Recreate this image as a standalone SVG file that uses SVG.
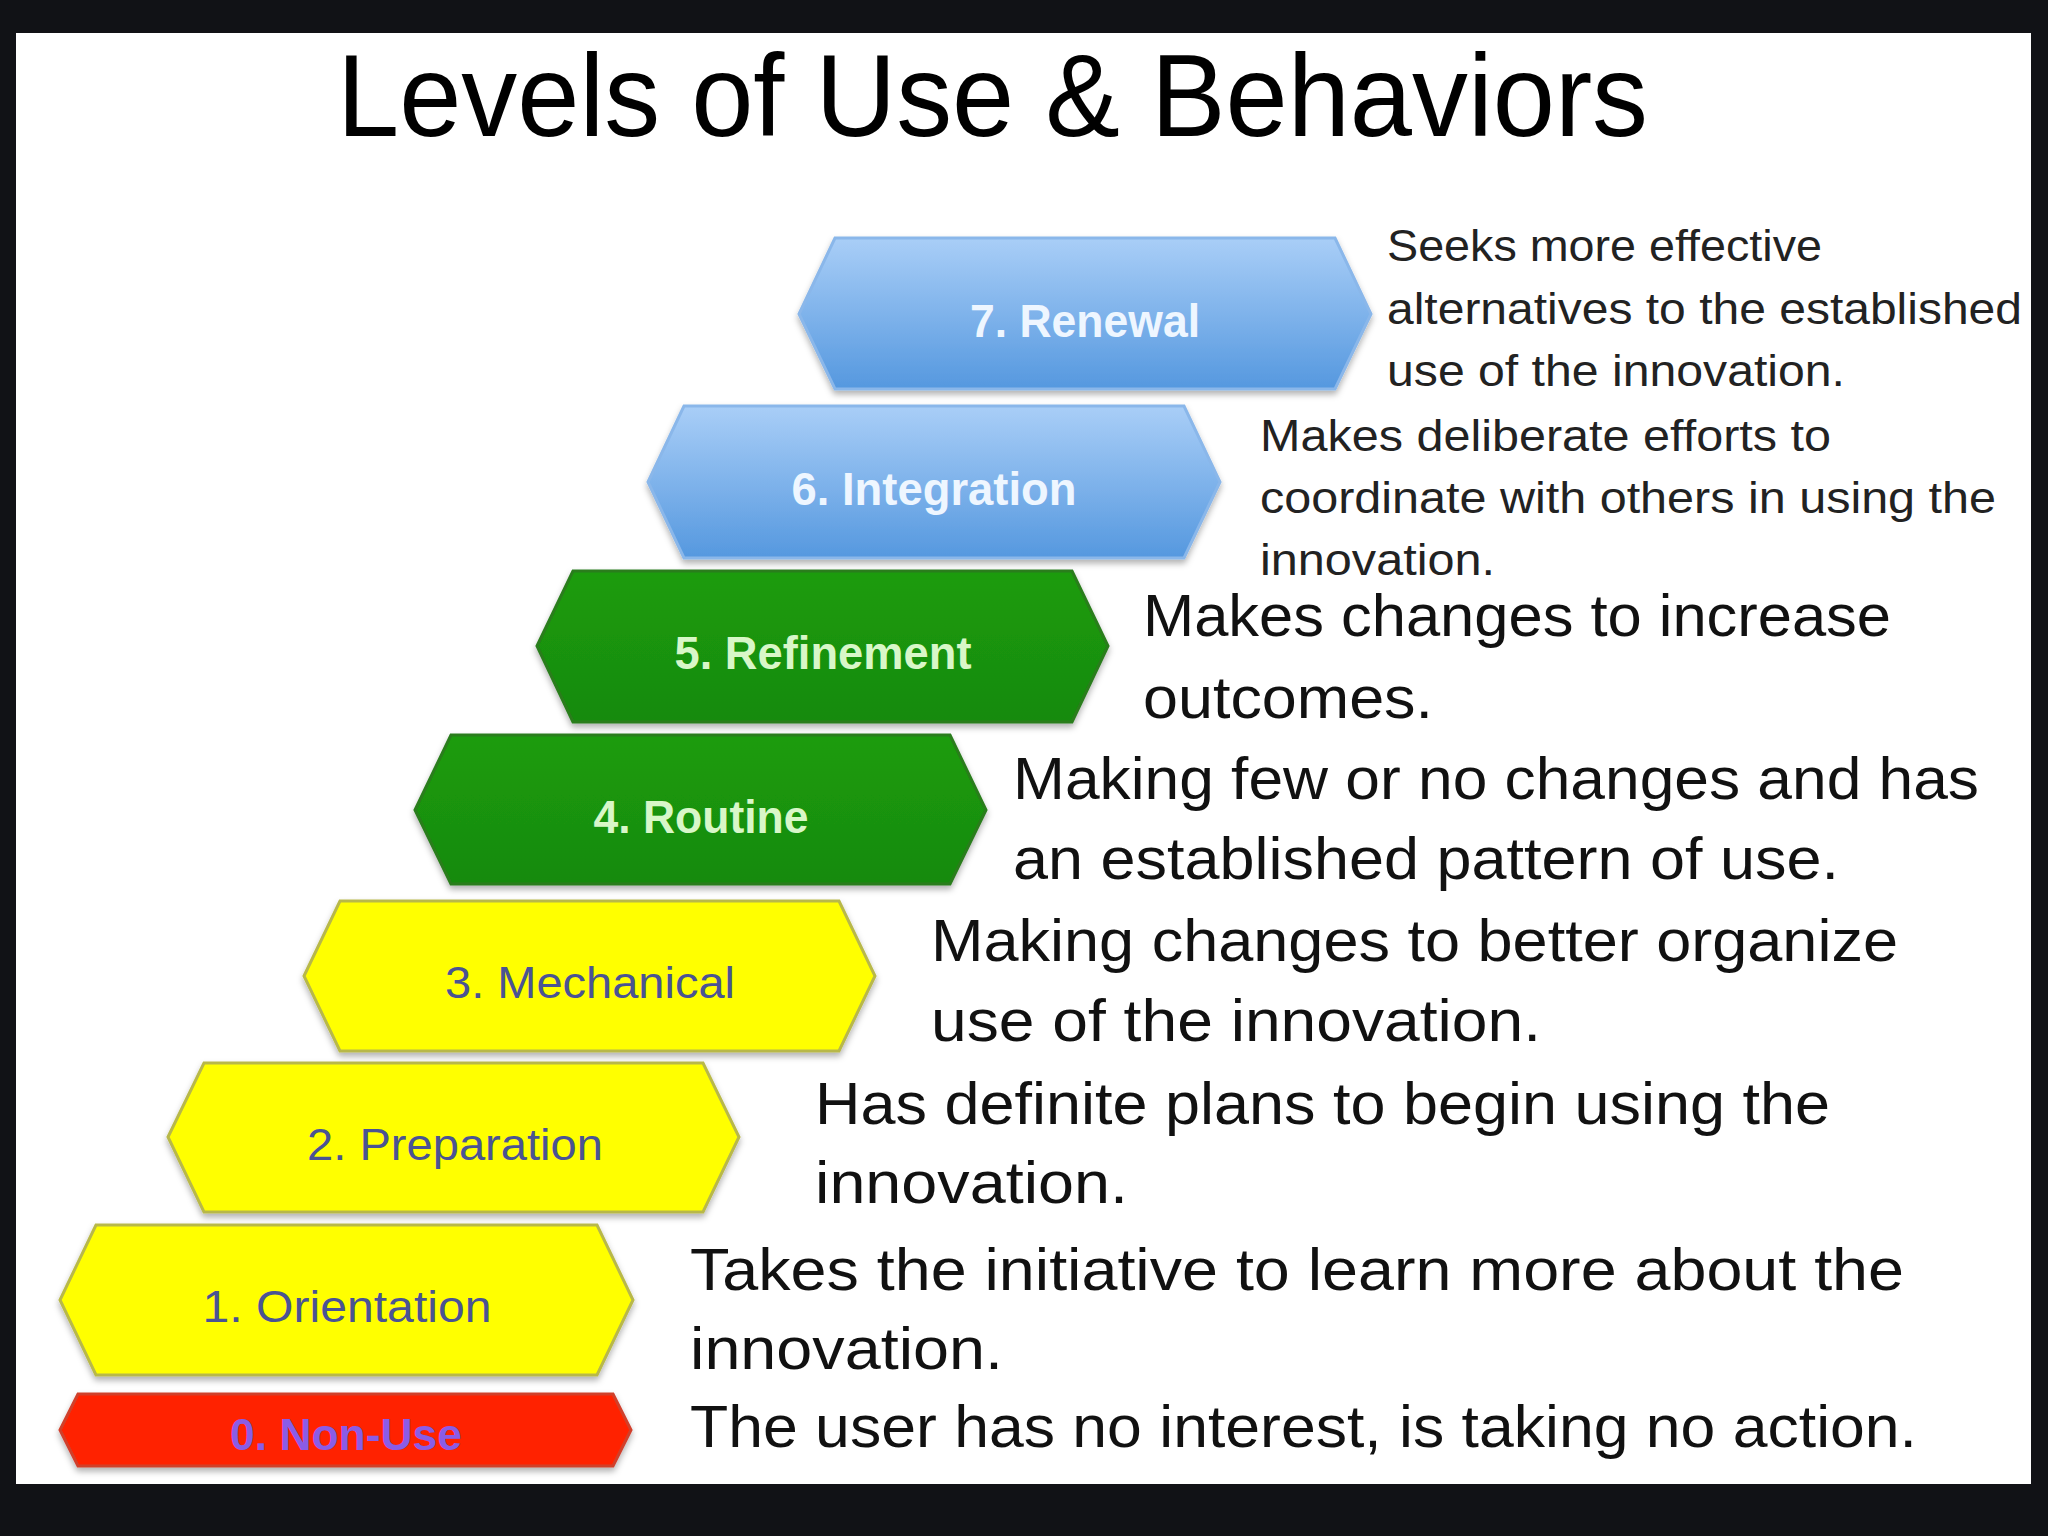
<svg xmlns="http://www.w3.org/2000/svg" width="2048" height="1536" viewBox="0 0 2048 1536">
  <defs>
    <linearGradient id="gBlue" x1="0" y1="0" x2="0" y2="1">
      <stop offset="0" stop-color="#a9cef7"/>
      <stop offset="1" stop-color="#5598df"/>
    </linearGradient>
    <linearGradient id="gGreen" x1="0" y1="0" x2="0" y2="1">
      <stop offset="0" stop-color="#1c9c0a"/>
      <stop offset="1" stop-color="#178a08"/>
    </linearGradient>
    <filter id="sh" x="-5%" y="-10%" width="110%" height="130%">
      <feDropShadow dx="0" dy="4" stdDeviation="3" flood-color="#000" flood-opacity="0.3"/>
    </filter>
    <style>
      .blue { fill: url(#gBlue); stroke: #8ab7ea; stroke-width: 3; filter: url(#sh); }
      .green { fill: url(#gGreen); stroke: #2a7d1e; stroke-width: 3; filter: url(#sh); }
      .yellow { fill: #ffff00; stroke: #b8b84a; stroke-width: 3; filter: url(#sh); }
      .red { fill: #ff2400; stroke: #d0402c; stroke-width: 3; filter: url(#sh); }
      .lbl { font-family: "Liberation Sans", Arial, sans-serif; text-anchor: middle; }
      .lb { fill: #eef6ff; font-size: 46px; font-weight: bold; }
      .lg { fill: #d8f7c8; font-size: 46px; font-weight: bold; }
      .ly { fill: #4a5393; font-size: 45px; }
      .lr { fill: #8a5ce6; font-size: 44px; font-weight: bold; }
      .desc { font-family: "Liberation Sans", Arial, sans-serif; fill: #111; }
      .ds { font-size: 45px; fill: #222; }
      .dl { font-size: 60px; }
      .title { font-family: "Liberation Sans", Arial, sans-serif; font-size: 116px; fill: #000; }
    </style>
  </defs>

  <rect x="0" y="0" width="2048" height="1536" fill="#111216"/>
  <rect x="16" y="33" width="2015" height="1451" fill="#ffffff"/>

  <text class="title" x="337" y="136" textLength="1311" lengthAdjust="spacingAndGlyphs">Levels of Use &amp; Behaviors</text>

  <g id="node-7">
    <polygon class="blue" points="799,314 835,238 1335,238 1371,314 1335,389 835,389"/>
    <text class="lbl lb" x="1085" y="337" textLength="230" lengthAdjust="spacingAndGlyphs">7. Renewal</text>
  </g>
  <g id="node-6">
    <polygon class="blue" points="648,482 684,406 1184,406 1220,482 1184,558 684,558"/>
    <text class="lbl lb" x="934" y="505" textLength="285" lengthAdjust="spacingAndGlyphs">6. Integration</text>
  </g>
  <g id="node-5">
    <polygon class="green" points="537,646 573,571 1072,571 1108,646 1072,722 573,722"/>
    <text class="lbl lg" x="823" y="669" textLength="297" lengthAdjust="spacingAndGlyphs">5. Refinement</text>
  </g>
  <g id="node-4">
    <polygon class="green" points="415,810 451,735 950,735 986,810 950,884 451,884"/>
    <text class="lbl lg" x="701" y="833" textLength="215" lengthAdjust="spacingAndGlyphs">4. Routine</text>
  </g>
  <g id="node-3">
    <polygon class="yellow" points="304,976 340,901 839,901 875,976 839,1051 340,1051"/>
    <text class="lbl ly" x="590" y="998" textLength="290" lengthAdjust="spacingAndGlyphs">3. Mechanical</text>
  </g>
  <g id="node-2">
    <polygon class="yellow" points="168,1137 204,1063 703,1063 739,1137 703,1212 204,1212"/>
    <text class="lbl ly" x="455" y="1160" textLength="296" lengthAdjust="spacingAndGlyphs">2. Preparation</text>
  </g>
  <g id="node-1">
    <polygon class="yellow" points="60,1300 96,1225 597,1225 633,1300 597,1375 96,1375"/>
    <text class="lbl ly" x="347" y="1322" textLength="289" lengthAdjust="spacingAndGlyphs">1. Orientation</text>
  </g>
  <g id="node-0">
    <polygon class="red" points="60,1430 78,1394 613,1394 631,1430 613,1466 78,1466"/>
    <text class="lbl lr" x="346" y="1450" textLength="232" lengthAdjust="spacingAndGlyphs">0. Non-Use</text>
  </g>

  <g id="connectors"></g>

  <g id="desc-7" class="desc ds">
    <text x="1387" y="261" textLength="435" lengthAdjust="spacingAndGlyphs">Seeks more effective</text>
    <text x="1387" y="324" textLength="635" lengthAdjust="spacingAndGlyphs">alternatives to the established</text>
    <text x="1387" y="386" textLength="458" lengthAdjust="spacingAndGlyphs">use of the innovation.</text>
  </g>
  <g id="desc-6" class="desc ds">
    <text x="1260" y="451" textLength="571" lengthAdjust="spacingAndGlyphs">Makes deliberate efforts to</text>
    <text x="1260" y="513" textLength="736" lengthAdjust="spacingAndGlyphs">coordinate with others in using the</text>
    <text x="1260" y="575" textLength="235" lengthAdjust="spacingAndGlyphs">innovation.</text>
  </g>
  <g id="desc-5" class="desc dl">
    <text x="1143" y="636" textLength="748" lengthAdjust="spacingAndGlyphs">Makes changes to increase</text>
    <text x="1143" y="718" textLength="290" lengthAdjust="spacingAndGlyphs">outcomes.</text>
  </g>
  <g id="desc-4" class="desc dl">
    <text x="1013" y="799" textLength="966" lengthAdjust="spacingAndGlyphs">Making few or no changes and has</text>
    <text x="1013" y="879" textLength="826" lengthAdjust="spacingAndGlyphs">an established pattern of use.</text>
  </g>
  <g id="desc-3" class="desc dl">
    <text x="931" y="961" textLength="967" lengthAdjust="spacingAndGlyphs">Making changes to better organize</text>
    <text x="931" y="1041" textLength="610" lengthAdjust="spacingAndGlyphs">use of the innovation.</text>
  </g>
  <g id="desc-2" class="desc dl">
    <text x="815" y="1124" textLength="1015" lengthAdjust="spacingAndGlyphs">Has definite plans to begin using the</text>
    <text x="815" y="1203" textLength="313" lengthAdjust="spacingAndGlyphs">innovation.</text>
  </g>
  <g id="desc-1" class="desc dl">
    <text x="690" y="1290" textLength="1214" lengthAdjust="spacingAndGlyphs">Takes the initiative to learn more about the</text>
    <text x="690" y="1369" textLength="313" lengthAdjust="spacingAndGlyphs">innovation.</text>
  </g>
  <g id="desc-0" class="desc dl">
    <text x="690" y="1447" textLength="1227" lengthAdjust="spacingAndGlyphs">The user has no interest, is taking no action.</text>
  </g>
</svg>
